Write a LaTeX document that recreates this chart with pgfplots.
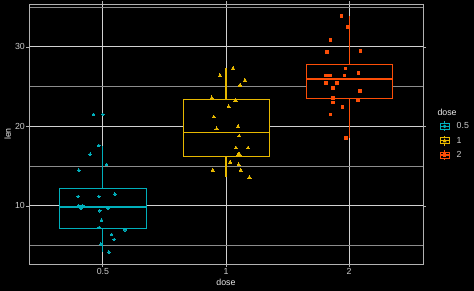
\documentclass[border=0pt]{standalone}
\usepackage{pgfplots}
\pgfplotsset{compat=1.18}
\usepgfplotslibrary{statistics}
\usepackage{fontspec}
\setmainfont{Liberation Sans}
\definecolor{c05}{HTML}{00AFBB}
\definecolor{c1}{HTML}{E7B800}
\definecolor{c2}{HTML}{FC4E07}
\definecolor{ticktxt}{HTML}{CCCCCC}
\newcommand{\fs}{\fontsize{8.8bp}{10bp}\selectfont}
\begin{document}
\begin{tikzpicture}
\fill[black] (-29bp,-27bp) rectangle (445bp,264bp);
\begin{axis}[
  scale only axis, width=394bp, height=260bp,
  xmin=0.4, xmax=3.6, ymin=2.7, ymax=35.4,
  xtick={1,2,3}, xticklabels={0.5,1,2},
  ytick={10,20,30}, yticklabels={10,20,30},
  minor ytick={5,15,25,35},
  grid=both,
  major grid style={color=white!82!black, line width=1.0bp},
  minor grid style={color=white!55!black, line width=0.6bp},
  axis line style={color=white!70!black, line width=0.8bp},
  tick align=outside, major tick length=3bp, minor tick length=0pt,
  tick style={color=white!70!black, line width=0.8bp},
  tick label style={font=\fs, text=ticktxt},
  yticklabel style={inner sep=1bp},
  xticklabel style={inner sep=1bp},
  xlabel={dose}, ylabel={len},
  label style={font=\fs, text=white!92!black},
  xlabel style={at={(axis description cs:0.5,-0.0808)}, anchor=base},
  ylabel style={at={(axis description cs:-0.0457,0.5)}, anchor=base},
  boxplot/draw direction=y,
  boxplot/every box/.style={fill=black},
  boxplot/every whisker/.style={line width=1.2bp},
  boxplot/every median/.style={line width=1.6bp},
  legend style={at={(axis description cs:1.0419,0.474)}, anchor=west,
    draw=none, fill=none, inner sep=0pt, outer sep=0pt,
    font=\fs, text=ticktxt, row sep=3.5bp, column sep=5.5bp,
    nodes={inner sep=1.5bp}},
  legend cell align=left,
]
% boxplots
\addplot[c05, line width=0.8bp, boxplot prepared={draw position=1, lower whisker=4.2, lower quartile=7.225, median=9.85, upper quartile=12.25, upper whisker=17.6, box extend=0.7, whisker extend=0},
  legend image code/.code={
    \draw[c05, line width=0.8bp] (0bp,-3bp) rectangle (9bp,3bp);
    \draw[c05, line width=0.8bp] (4.5bp,3bp)--(4.5bp,5bp) (4.5bp,-3bp)--(4.5bp,-5bp);
    \draw[c05, line width=1.2bp] (0bp,0bp)--(9bp,0bp);
    \fill[c05] (4.5bp,0bp) circle (1.3bp);}] coordinates {};
\addlegendentry{0.5}
\addplot[c1, line width=0.8bp, boxplot prepared={draw position=2, lower whisker=13.6, lower quartile=16.25, median=19.25, upper quartile=23.375, upper whisker=27.3, box extend=0.7, whisker extend=0},
  legend image code/.code={
    \draw[c1, line width=0.8bp] (0bp,-3bp) rectangle (9bp,3bp);
    \draw[c1, line width=0.8bp] (4.5bp,3bp)--(4.5bp,5bp) (4.5bp,-3bp)--(4.5bp,-5bp);
    \draw[c1, line width=1.2bp] (0bp,0bp)--(9bp,0bp);
    \fill[c1] (3.2bp,-1.2bp)--(5.8bp,-1.2bp)--(4.5bp,1.4bp)--cycle;}] coordinates {};
\addlegendentry{1}
\addplot[c2, line width=0.8bp, boxplot prepared={draw position=3, lower whisker=18.5, lower quartile=23.525, median=25.95, upper quartile=27.825, upper whisker=33.9, box extend=0.7, whisker extend=0},
  legend image code/.code={
    \draw[c2, line width=0.8bp] (0bp,-3bp) rectangle (9bp,3bp);
    \draw[c2, line width=0.8bp] (4.5bp,3bp)--(4.5bp,5bp) (4.5bp,-3bp)--(4.5bp,-5bp);
    \draw[c2, line width=1.2bp] (0bp,0bp)--(9bp,0bp);
    \fill[c2] (3.3bp,-1.2bp) rectangle (5.7bp,1.2bp);}] coordinates {};
\addlegendentry{2}
% outlier of dose 0.5
\addplot[forget plot, only marks, mark=*, mark size=1.3bp, color=c05, mark options={solid, fill=c05, draw=c05, line width=0pt}] coordinates {(1,21.5)};
% jittered points
\addplot[forget plot, only marks, mark=*, mark size=1.3bp, color=c05, mark options={solid, fill=c05, draw=c05, line width=0pt}] coordinates {
(0.924,21.5) (0.967,17.6) (0.897,16.5) (1.030,15.2) (0.805,14.5)
(1.098,11.5) (0.800,11.2) (0.967,11.2) (0.805,10.0) (0.837,10.0)
(0.821,9.7) (1.043,9.7) (0.976,9.4) (0.989,8.2) (0.970,7.3)
(1.179,7.0) (1.071,6.4) (1.092,5.8) (0.984,5.2) (1.049,4.2)};
\addplot[forget plot, only marks, mark=triangle*, mark size=1.9bp, color=c1, mark options={solid, fill=c1, draw=c1, line width=0pt}] coordinates {
(2.057,27.3) (1.951,26.4) (2.154,25.8) (2.114,25.2) (1.884,23.6)
(2.076,23.3) (2.022,22.5) (1.900,21.2) (1.924,19.7) (2.098,20.0)
(2.108,18.8) (2.081,17.3) (2.179,17.3) (2.100,16.5) (2.110,16.5)
(2.033,15.5) (2.103,15.2) (1.892,14.5) (2.119,14.5) (2.190,13.6)};
\addplot[forget plot, only marks, mark=square*, mark size=1.4bp, color=c2, mark options={solid, fill=c2, draw=c2, line width=0pt}] coordinates {
(2.938,33.9) (2.986,32.5) (2.848,30.9) (2.821,29.4) (3.092,29.5)
(2.970,27.3) (3.076,26.7) (2.813,26.4) (2.846,26.4) (2.962,26.4)
(2.810,25.5) (2.900,25.5) (2.872,24.8) (3.089,24.5) (2.872,23.6)
(2.872,23.0) (3.070,23.3) (2.946,22.4) (2.848,21.5) (2.973,18.5)};
\end{axis}
\node[anchor=base west, font=\fs, text=white!92!black, inner sep=0pt] at (408.3bp,148.7bp) {dose};
\end{tikzpicture}
\end{document}
